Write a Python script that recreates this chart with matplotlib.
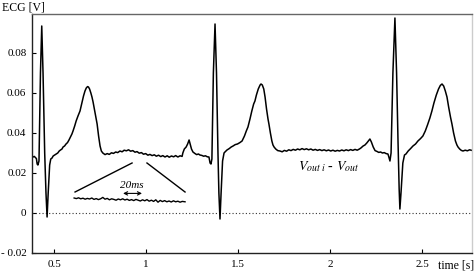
import matplotlib
matplotlib.use("Agg")
import matplotlib.pyplot as plt

plt.rcParams['font.family'] = ['Liberation Serif', 'DejaVu Serif']
plt.rcParams['mathtext.fontset'] = 'stix'

# ECG trace (time [s], voltage [V])
ecg_t = [0.380, 0.386, 0.392, 0.398, 0.404, 0.408, 0.412, 0.418, 0.426, 0.433,
         0.440, 0.449, 0.456, 0.462, 0.468, 0.476, 0.482, 0.489, 0.495, 0.503,
         0.511, 0.520, 0.528, 0.535, 0.543, 0.549, 0.557, 0.565, 0.573, 0.581,
         0.589, 0.597, 0.603, 0.612, 0.620, 0.630, 0.641, 0.650, 0.660, 0.668,
         0.675, 0.682, 0.687, 0.693, 0.700, 0.706, 0.712, 0.720, 0.727, 0.734,
         0.742, 0.750, 0.757, 0.765, 0.777, 0.789, 0.800, 0.812, 0.823, 0.835,
         0.846, 0.858, 0.870, 0.881, 0.893, 0.905, 0.916, 0.928, 0.940, 0.951,
         0.963, 0.975, 0.986, 0.998, 1.010, 1.021, 1.033, 1.045, 1.056, 1.068,
         1.080, 1.091, 1.103, 1.115, 1.126, 1.138, 1.150, 1.161, 1.173, 1.185,
         1.196, 1.200, 1.208, 1.218, 1.226, 1.234, 1.240, 1.247, 1.255, 1.265,
         1.275, 1.285, 1.293, 1.303, 1.313, 1.323, 1.333, 1.342, 1.348, 1.353,
         1.358, 1.366, 1.375, 1.383, 1.391, 1.396, 1.402, 1.408, 1.416, 1.424,
         1.429, 1.440, 1.452, 1.463, 1.473, 1.485, 1.497, 1.510, 1.522, 1.535,
         1.545, 1.554, 1.565, 1.575, 1.585, 1.592, 1.600, 1.610, 1.620, 1.625,
         1.632, 1.640, 1.647, 1.655, 1.663, 1.668, 1.676, 1.684, 1.690, 1.696,
         1.705, 1.716, 1.728, 1.740, 1.752, 1.764, 1.776, 1.788, 1.800, 1.812,
         1.824, 1.836, 1.848, 1.860, 1.872, 1.884, 1.896, 1.908, 1.920, 1.932,
         1.944, 1.956, 1.968, 1.980, 1.992, 2.004, 2.016, 2.028, 2.040, 2.052,
         2.064, 2.076, 2.088, 2.100, 2.112, 2.124, 2.136, 2.148, 2.160, 2.168,
         2.180, 2.190, 2.200, 2.210, 2.217, 2.225, 2.235, 2.245, 2.255, 2.265,
         2.275, 2.285, 2.295, 2.305, 2.315, 2.320, 2.326, 2.332, 2.342, 2.353,
         2.362, 2.370, 2.376, 2.380, 2.386, 2.396, 2.405, 2.413, 2.425, 2.438,
         2.451, 2.465, 2.478, 2.492, 2.505, 2.518, 2.530, 2.543, 2.554, 2.565,
         2.578, 2.590, 2.600, 2.609, 2.618, 2.627, 2.636, 2.645, 2.655, 2.663,
         2.672, 2.682, 2.690, 2.696, 2.705, 2.714, 2.723, 2.735, 2.747, 2.759,
         2.771, 2.783]
ecg_v = [0.0285, 0.0280, 0.0283, 0.0278, 0.0272, 0.0245, 0.0240, 0.0260, 0.0700, 0.0935,
         0.0700, 0.0300, 0.0100, -0.0020, 0.0100, 0.0240, 0.0270, 0.0275, 0.0285, 0.0290,
         0.0295, 0.0300, 0.0310, 0.0315, 0.0320, 0.0330, 0.0335, 0.0345, 0.0352, 0.0365,
         0.0380, 0.0395, 0.0410, 0.0435, 0.0460, 0.0485, 0.0510, 0.0545, 0.0585, 0.0610,
         0.0625, 0.0632, 0.0630, 0.0620, 0.0600, 0.0580, 0.0555, 0.0515, 0.0480, 0.0445,
         0.0385, 0.0335, 0.0310, 0.0300, 0.0292, 0.0297, 0.0293, 0.0301, 0.0298, 0.0305,
         0.0302, 0.0310, 0.0306, 0.0314, 0.0311, 0.0316, 0.0309, 0.0312, 0.0304, 0.0307,
         0.0299, 0.0302, 0.0294, 0.0297, 0.0289, 0.0293, 0.0287, 0.0291, 0.0284, 0.0289,
         0.0282, 0.0287, 0.0280, 0.0286, 0.0279, 0.0285, 0.0281, 0.0287, 0.0280, 0.0286,
         0.0283, 0.0300, 0.0320, 0.0330, 0.0345, 0.0365, 0.0345, 0.0320, 0.0305, 0.0298,
         0.0292, 0.0295, 0.0290, 0.0288, 0.0284, 0.0286, 0.0281, 0.0280, 0.0250, 0.0245,
         0.0270, 0.0700, 0.0945, 0.0700, 0.0300, 0.0100, -0.0030, 0.0100, 0.0260, 0.0300,
         0.0305, 0.0315, 0.0322, 0.0330, 0.0335, 0.0342, 0.0345, 0.0352, 0.0360, 0.0385,
         0.0410, 0.0430, 0.0470, 0.0510, 0.0545, 0.0560, 0.0590, 0.0620, 0.0640, 0.0645,
         0.0640, 0.0620, 0.0580, 0.0520, 0.0470, 0.0445, 0.0400, 0.0360, 0.0340, 0.0330,
         0.0320, 0.0312, 0.0310, 0.0306, 0.0313, 0.0309, 0.0316, 0.0312, 0.0318, 0.0314,
         0.0320, 0.0316, 0.0322, 0.0317, 0.0321, 0.0316, 0.0320, 0.0314, 0.0318, 0.0313,
         0.0317, 0.0312, 0.0316, 0.0311, 0.0315, 0.0310, 0.0314, 0.0309, 0.0313, 0.0310,
         0.0315, 0.0311, 0.0316, 0.0312, 0.0317, 0.0313, 0.0318, 0.0314, 0.0320, 0.0325,
         0.0335, 0.0340, 0.0350, 0.0362, 0.0370, 0.0355, 0.0330, 0.0312, 0.0308, 0.0303,
         0.0305, 0.0300, 0.0302, 0.0297, 0.0295, 0.0280, 0.0260, 0.0300, 0.0700, 0.0975,
         0.0700, 0.0350, 0.0120, 0.0020, 0.0100, 0.0250, 0.0290, 0.0295, 0.0310, 0.0322,
         0.0335, 0.0345, 0.0360, 0.0372, 0.0385, 0.0410, 0.0440, 0.0475, 0.0510, 0.0550,
         0.0590, 0.0620, 0.0638, 0.0645, 0.0635, 0.0610, 0.0580, 0.0530, 0.0480, 0.0445,
         0.0400, 0.0360, 0.0340, 0.0330, 0.0320, 0.0313, 0.0310, 0.0314, 0.0311, 0.0316,
         0.0313, 0.0315]

# magnified 20 ms excerpt (drawn below the baseline)
inset_t = [0.609, 0.621, 0.633, 0.645, 0.657, 0.669, 0.681, 0.693, 0.705, 0.717,
           0.729, 0.741, 0.753, 0.765, 0.777, 0.789, 0.801, 0.813, 0.825, 0.837,
           0.849, 0.861, 0.873, 0.885, 0.897, 0.909, 0.921, 0.933, 0.945, 0.957,
           0.969, 0.981, 0.993, 1.005, 1.017, 1.029, 1.041, 1.053, 1.065, 1.077,
           1.089, 1.101, 1.113, 1.125, 1.137, 1.149, 1.161, 1.173, 1.185, 1.197,
           1.212]
inset_v = [0.0075, 0.0072, 0.0076, 0.0071, 0.0074, 0.0069, 0.0073, 0.0070, 0.0075, 0.0068,
           0.0072, 0.0067, 0.0071, 0.0078, 0.0069, 0.0073, 0.0066, 0.0071, 0.0068, 0.0064,
           0.0070, 0.0066, 0.0071, 0.0065, 0.0069, 0.0063, 0.0067, 0.0062, 0.0068, 0.0064,
           0.0060, 0.0066, 0.0061, 0.0067, 0.0059, 0.0064, 0.0058, 0.0066, 0.0054, 0.0063,
           0.0057, 0.0062, 0.0056, 0.0060, 0.0055, 0.0061, 0.0056, 0.0059, 0.0054, 0.0058,
           0.0056]

zoom_left_t = [0.614, 0.924]
zoom_left_v = [0.0105, 0.0250]
zoom_right_t = [1.005, 1.212]
zoom_right_v = [0.0250, 0.0105]

yticks = [-0.02, 0.0, 0.02, 0.04, 0.06, 0.08]
ytick_labels = ['- 0.02', '0', '0.02', '0.04', '0.06', '0.08']
xticks = [0.5, 1.0, 1.5, 2.0, 2.5]
xtick_labels = ['0.5', '1', '1.5', '2', '2.5']

fig = plt.figure(figsize=(4.74, 2.72), dpi=100)
ax = fig.add_axes([32/474, 19/272, 440/474, 239/272])

ax.axhline(0, color='#333333', lw=0.8, ls=(0, (1, 2)))
ax.plot(ecg_t, ecg_v, color='black', lw=1.1)
ax.plot(inset_t, inset_v, color='black', lw=1.0)
ax.plot(zoom_left_t, zoom_left_v, color='black', lw=1.0)
ax.plot(zoom_right_t, zoom_right_v, color='black', lw=1.0)
ax.annotate('', xy=(0.875, 0.0098), xytext=(0.978, 0.0098),
            arrowprops=dict(arrowstyle='<->', color='black', lw=0.8,
                            mutation_scale=6, shrinkA=0, shrinkB=0))
ax.text(0.924, 0.0135, '20ms', style='italic', fontsize=8, ha='center', va='center')
ax.text(1.99, 0.023, r'$V_{out\ i}$ - $V_{out}$', fontsize=10, ha='center', va='center')

ax.set_xlim(0.380, 2.772)
ax.set_ylim(-0.02, 0.0995)
ax.set_yticks(yticks)
ax.set_yticklabels(ytick_labels)
ax.set_xticks(xticks)
ax.set_xticklabels(xtick_labels)
ax.tick_params(direction='in', length=3, width=0.8, labelsize=8, pad=4,
               colors='black')
ax.tick_params(axis='x', pad=5)

for s in ['left', 'bottom']:
    ax.spines[s].set_color('#222222')
    ax.spines[s].set_linewidth(1.0)
ax.spines['top'].set_color('#666666')
ax.spines['top'].set_linewidth(1.0)
ax.spines['right'].set_color('#cccccc')
ax.spines['right'].set_linewidth(1.0)

fig.text(2/474, 1 - 7/272, 'ECG [V]', fontsize=8.5, ha='left', va='center')
fig.text(1.0, 1 - 265/272, 'time [s]', fontsize=8.5, ha='right', va='center')

fig.savefig('out.png', dpi=100)
